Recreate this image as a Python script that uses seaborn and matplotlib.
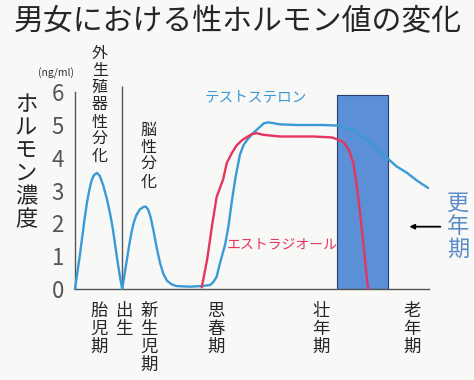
import matplotlib
matplotlib.use("Agg")
import matplotlib.pyplot as plt
import seaborn as sns

# testosterone (blue)
testo_x = [0, 0.1, 0.2, 0.3, 0.4, 0.5, 0.6, 0.7, 0.8, 0.93, 1.05, 1.2, 1.35,
           1.5, 1.6, 1.7, 1.8, 1.9, 2.0,
           2.1, 2.2, 2.3, 2.4, 2.5, 2.6, 2.75, 2.9, 3.0, 3.1, 3.2, 3.32, 3.45,
           3.6, 3.75, 3.9, 4.1, 4.3, 4.87, 5.37, 5.72, 5.85, 6.0, 6.14, 6.36,
           6.5, 6.65, 6.8, 6.99, 7.15, 7.3, 7.5, 7.8, 8.0, 8.18, 8.45, 8.69,
           9.41, 10.5, 11.23, 11.78, 12.1, 12.5, 13.22, 13.6, 14.07, 14.5,
           14.96]
testo_y = [0, 0.5, 1.0, 1.55, 2.1, 2.6, 3.0, 3.3, 3.47, 3.54, 3.45, 3.15, 2.75,
           2.25, 1.85, 1.35, 0.85, 0.4, 0,
           0.45, 0.9, 1.35, 1.75, 2.05, 2.25, 2.43, 2.5, 2.51, 2.42, 2.2, 1.8,
           1.3, 0.8, 0.45, 0.25, 0.14, 0.09, 0.07, 0.09, 0.12, 0.2, 0.37,
           0.78, 1.35, 1.9, 2.7, 3.4, 4.1, 4.4, 4.55, 4.72, 4.92, 5.05, 5.08,
           5.05, 5.02, 5.0, 5.0, 4.98, 4.85, 4.7, 4.45, 4.0, 3.75, 3.54, 3.3,
           3.08]

# estradiol (red)
estra_x = [5.37, 5.6, 5.8, 6.0, 6.28, 6.43, 6.65, 6.85, 7.1, 7.49, 7.7,
           7.98, 8.69, 10.1, 10.9, 11.36, 11.6, 11.8, 11.95, 12.08, 12.2,
           12.3, 12.42]
estra_y = [0.05, 0.9, 1.9, 2.8, 3.35, 3.84, 4.15, 4.38, 4.55, 4.72, 4.75,
           4.7, 4.65, 4.65, 4.62, 4.49, 4.25, 3.83, 3.1, 2.3, 1.5, 0.8, 0]

menopause_span = [11.1, 13.25]
menopause_top = 5.9
birth_x = 2.0

stage_labels = ["胎児期", "出生", "新生児期", "思春期", "壮年期", "老年期"]
stage_pos = [1.02, 2.08, 3.14, 5.97, 10.42, 14.28]
x_ticks = list(range(1, 15))
y_ticks = [0, 1, 2, 3, 4, 5, 6]

sns.set_style("white")
plt.rcParams['font.family'] = ['Noto Sans CJK JP', 'DejaVu Sans']

blue = "#3a9ad6"
red = "#e5355f"
bg = "#f8f8f6"

fig = plt.figure(figsize=(4.74, 3.8), dpi=100, facecolor=bg)
ax = fig.add_axes([75/474, 91/380, 399/474, 249/380])
ax.set_facecolor(bg)
ax.set_xlim(0, 399/23.6)
ax.set_ylim(0, 249/32.8)

# menopause band
ax.fill_between(menopause_span, 0, menopause_top, color="#5b8fd8",
                edgecolor="#2a3f70", linewidth=0.8, zorder=1)

# birth line
ax.vlines(birth_x, 0, 6.2, color="#555555", linewidth=1.0, zorder=1)

sns.lineplot(x=testo_x, y=testo_y, sort=False, estimator=None, ax=ax,
             color=blue, linewidth=1.7, zorder=3, clip_on=False)
sns.lineplot(x=estra_x, y=estra_y, sort=False, estimator=None, ax=ax,
             color=red, linewidth=1.7, zorder=4, clip_on=False)

for s in ["top", "right"]:
    ax.spines[s].set_visible(False)
ax.spines["left"].set_bounds(0, 6)
ax.spines["bottom"].set_bounds(0, 15)
for s in ["left", "bottom"]:
    ax.spines[s].set_color("#555555")
    ax.spines[s].set_linewidth(1.0)

ax.set_xticks(x_ticks)
ax.set_xticklabels([])
ax.set_yticks(y_ticks)
ax.set_yticklabels([str(v) for v in y_ticks], fontsize=16, color="#555555")
ax.tick_params(axis="both", direction="in", length=3, width=0.8,
               color="#666666")
ax.tick_params(axis="y", pad=8)

# stage labels under the axis
for lab, pos in zip(stage_labels, stage_pos):
    ax.text(pos, -0.4, "\n".join(lab), ha="center", va="top", fontsize=12.5,
            linespacing=1.0, clip_on=False)

# annotations
ax.text(1.05, 7.45, "\n".join("外生殖器性分化"), ha="center", va="top",
        fontsize=11.5, linespacing=1.02, clip_on=False)
ax.text(3.12, 5.1, "\n".join("脳性分化"), ha="center", va="top",
        fontsize=11.5, linespacing=1.02, clip_on=False)
ax.text(5.5, 5.85, "テストステロン", color=blue, fontsize=10.5,
        ha="left", va="center")
ax.text(6.45, 1.35, "エストラジオール", color=red, fontsize=10,
        ha="left", va="center")
ax.text(16.23, 1.9, "\n".join("更年期"), color="#5b8cc8", fontsize=16,
        ha="center", va="center", linespacing=1.0, clip_on=False)
ax.annotate("", xy=(14.05, 1.9), xytext=(15.6, 1.9),
            arrowprops=dict(arrowstyle="-|>", color="black", lw=1.3,
                            mutation_scale=7))

fig.text(238/474, 1 - 22/380, "男女における性ホルモン値の変化",
         fontsize=21.5, ha="center", va="center")
fig.text(26/474, 1 - 162/380, "\n".join("ホルモン濃度"), fontsize=16,
         ha="center", va="center", linespacing=1.0)
fig.text(56/474, 1 - 73/380, "(ng/ml)", fontsize=7.5, ha="center",
         va="center", color="#333333")

fig.savefig("out.png", dpi=100, facecolor=bg)
